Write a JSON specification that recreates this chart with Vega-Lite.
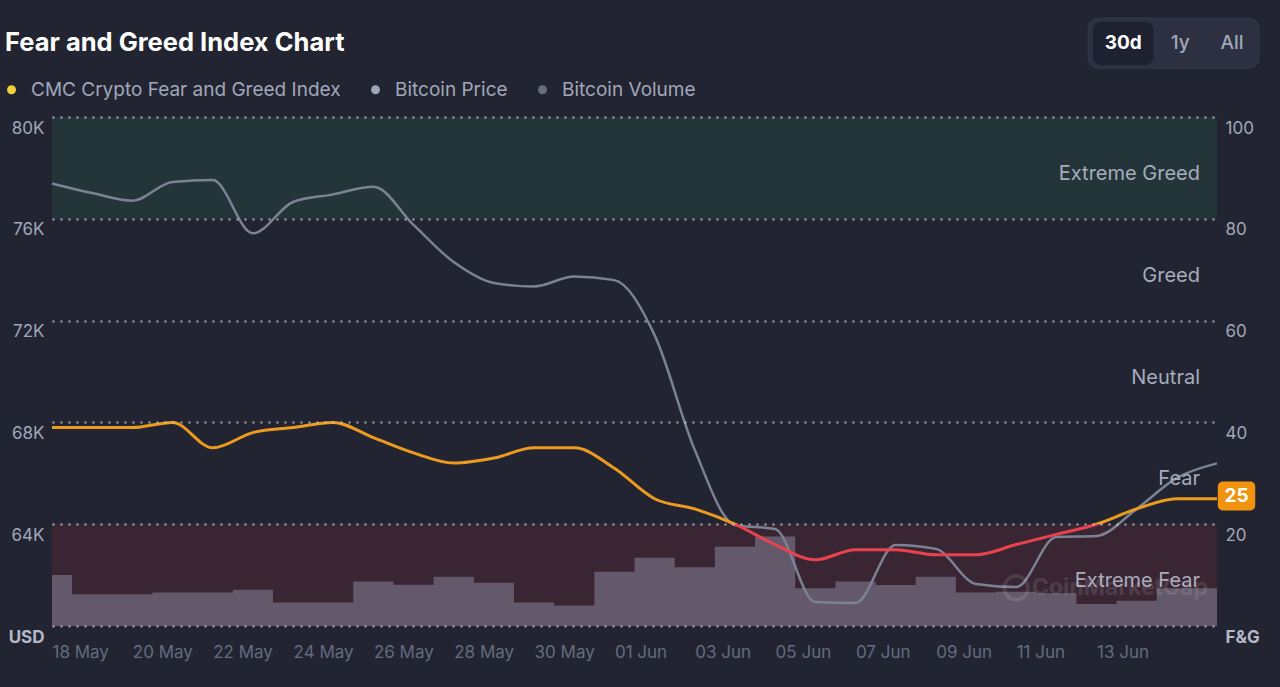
{
  "$schema": "https://vega.github.io/schema/vega-lite/v6.json",
  "width": 1165,
  "height": 509,
  "autosize": {"type": "none"},
  "padding": {"left": 52, "top": 117, "right": 63, "bottom": 61},
  "background": "#222531",
  "config": {"font": "Inter", "view": {"stroke": null}},
  "title": {"text": "Fear and Greed Index Chart", "anchor": "start", "frame": "group", "dx": -47, "dy": 59, "offset": 0, "baseline": "alphabetic", "fontSize": 25.5, "fontWeight": "bold", "color": "#ffffff", "font": "Inter"},
  "data": {"values": [{}]},
  "datasets": {
    "daily": [
      {"date": "2024-05-18T00:00:00", "price": 77390, "fg": 39, "volume": 25.0},
      {"date": "2024-05-19T00:00:00", "price": 77010, "fg": 39, "volume": 15.6},
      {"date": "2024-05-20T00:00:00", "price": 76710, "fg": 39, "volume": 15.6},
      {"date": "2024-05-21T00:00:00", "price": 77450, "fg": 40, "volume": 16.4},
      {"date": "2024-05-22T00:00:00", "price": 77520, "fg": 35, "volume": 16.4},
      {"date": "2024-05-23T00:00:00", "price": 75430, "fg": 38, "volume": 17.8},
      {"date": "2024-05-24T00:00:00", "price": 76660, "fg": 39, "volume": 11.6},
      {"date": "2024-05-25T00:00:00", "price": 76960, "fg": 40, "volume": 11.6},
      {"date": "2024-05-26T00:00:00", "price": 77260, "fg": 37, "volume": 21.8},
      {"date": "2024-05-27T00:00:00", "price": 75760, "fg": 34, "volume": 20.3},
      {"date": "2024-05-28T00:00:00", "price": 74300, "fg": 32, "volume": 24.2},
      {"date": "2024-05-29T00:00:00", "price": 73480, "fg": 33, "volume": 21.3},
      {"date": "2024-05-30T00:00:00", "price": 73340, "fg": 35, "volume": 11.5},
      {"date": "2024-05-31T00:00:00", "price": 73730, "fg": 35, "volume": 10.1},
      {"date": "2024-06-01T00:00:00", "price": 73590, "fg": 31, "volume": 26.6},
      {"date": "2024-06-02T00:00:00", "price": 71430, "fg": 25, "volume": 33.5},
      {"date": "2024-06-03T00:00:00", "price": 66920, "fg": 23, "volume": 28.8},
      {"date": "2024-06-04T00:00:00", "price": 63970, "fg": 20, "volume": 38.9},
      {"date": "2024-06-05T00:00:00", "price": 63810, "fg": 16, "volume": 43.9},
      {"date": "2024-06-06T00:00:00", "price": 60940, "fg": 13, "volume": 18.5},
      {"date": "2024-06-07T00:00:00", "price": 60900, "fg": 15, "volume": 21.8},
      {"date": "2024-06-08T00:00:00", "price": 63180, "fg": 15, "volume": 20.1},
      {"date": "2024-06-09T00:00:00", "price": 63030, "fg": 14, "volume": 24.2},
      {"date": "2024-06-10T00:00:00", "price": 61650, "fg": 14, "volume": 16.4},
      {"date": "2024-06-11T00:00:00", "price": 61530, "fg": 16, "volume": 16.8},
      {"date": "2024-06-12T00:00:00", "price": 63500, "fg": 18, "volume": 16.1},
      {"date": "2024-06-13T00:00:00", "price": 63540, "fg": 20, "volume": 10.8},
      {"date": "2024-06-14T00:00:00", "price": 64600, "fg": 23, "volume": 12.4},
      {"date": "2024-06-15T00:00:00", "price": 65820, "fg": 25, "volume": 18.5},
      {"date": "2024-06-16T00:00:00", "price": 66390, "fg": 25, "volume": 18.5}
    ],
    "zones": [
      {"zone": "Extreme Greed", "lo": 80, "hi": 100, "mid": 90},
      {"zone": "Greed", "lo": 60, "hi": 80, "mid": 70},
      {"zone": "Neutral", "lo": 40, "hi": 60, "mid": 50},
      {"zone": "Fear", "lo": 20, "hi": 40, "mid": 30},
      {"zone": "Extreme Fear", "lo": 0, "hi": 20, "mid": 10}
    ],
    "series": [
      {"series": "CMC Crypto Fear and Greed Index"},
      {"series": "Bitcoin Price"},
      {"series": "Bitcoin Volume"}
    ]
  },
  "resolve": {"scale": {"y": "independent"}},
  "layer": [
    {
      "data": {"name": "zones"},
      "transform": [{"filter": "datum.zone == 'Extreme Greed' || datum.zone == 'Extreme Fear'"}],
      "mark": {"type": "rect"},
      "encoding": {
        "x": {
          "datum": {"year": 2024, "month": 5, "date": 18}, "type": "temporal",
          "scale": {"domain": [{"year": 2024, "month": 5, "date": 18}, {"year": 2024, "month": 6, "date": 16}]},
          "axis": {
            "tickCount": {"interval": "day", "step": 1},
            "labelExpr": "(round((datum.value - datetime(2024, 4, 18)) / 86400000) % 2 == 0 && datum.value < datetime(2024, 5, 14)) ? timeFormat(datum.value, '%d %b') : ''",
            "labelAlign": "left", "labelBaseline": "top", "labelPadding": 18,
            "labelColor": "#646b80", "labelFontSize": 17, "labelFont": "Inter",
            "grid": false, "domain": false, "ticks": false, "title": null,
            "labelFlush": false, "labelOverlap": false, "labelBound": false
          }
        },
        "x2": {"datum": {"year": 2024, "month": 6, "date": 16}},
        "y": {"field": "lo", "type": "quantitative", "scale": {"domain": [0, 100], "nice": false, "zero": false}, "axis": null},
        "y2": {"field": "hi"},
        "fill": {"field": "zone", "type": "nominal", "scale": {"domain": ["Extreme Greed", "Extreme Fear"], "range": ["#243539", "#3a2633"]}, "legend": null}
      }
    },
    {
      "data": {"name": "daily"},
      "mark": {"type": "area", "interpolate": "step", "color": "#63596b", "opacity": 1},
      "encoding": {
        "x": {"field": "date", "type": "temporal", "scale": {"domain": [{"year": 2024, "month": 5, "date": 18}, {"year": 2024, "month": 6, "date": 16}]}},
        "y": {"field": "volume", "type": "quantitative", "scale": {"domain": [0, 250], "nice": false, "zero": true}, "axis": null}
      }
    },
    {
      "data": {"name": "daily"},
      "mark": {"type": "line", "interpolate": "monotone", "color": "#7b8294", "strokeWidth": 2.5},
      "encoding": {
        "x": {"field": "date", "type": "temporal", "scale": {"domain": [{"year": 2024, "month": 5, "date": 18}, {"year": 2024, "month": 6, "date": 16}]}},
        "y": {
          "field": "price", "type": "quantitative",
          "scale": {"domain": [60000, 80000], "nice": false, "zero": false},
          "axis": {
            "orient": "left", "values": [60000, 64000, 68000, 72000, 76000, 80000],
            "labelExpr": "datum.value == 60000 ? 'USD' : format(datum.value / 1000, 'd') + 'K'",
            "labelBaseline": "top", "labelOffset": 3, "labelPadding": 8, "labelFontSize": 17, "labelFont": "Inter",
            "labelColor": {"condition": {"test": "datum.value == 60000", "value": "#b4b8c8"}, "value": "#a1a7bb"},
            "labelFontWeight": {"condition": {"test": "datum.value == 60000", "value": "bold"}, "value": "normal"},
            "grid": true, "gridColor": "#cfd2dc", "gridDash": [2, 6], "gridWidth": 2, "gridOpacity": 0.8,
            "domain": false, "ticks": false, "title": null, "zindex": 1, "labelFlush": false
          }
        }
      }
    },
    {
      "data": {"name": "daily"},
      "mark": {
        "type": "line", "interpolate": "monotone", "strokeWidth": 3,
        "color": {"gradient": "linear", "x1": 0, "y1": 0, "x2": 0, "y2": 1, "stops": [
          {"offset": 0, "color": "#ec9b1f"}, {"offset": 0.7407, "color": "#ec9b1f"},
          {"offset": 0.7407, "color": "#e8424e"}, {"offset": 1, "color": "#e8424e"}
        ]}
      },
      "encoding": {
        "x": {"field": "date", "type": "temporal", "scale": {"domain": [{"year": 2024, "month": 5, "date": 18}, {"year": 2024, "month": 6, "date": 16}]}},
        "y": {
          "field": "fg", "type": "quantitative",
          "scale": {"domain": [0, 100], "nice": false, "zero": false},
          "axis": {
            "orient": "right", "values": [0, 20, 40, 60, 80, 100],
            "labelExpr": "datum.value == 0 ? 'F&G' : datum.label",
            "labelBaseline": "top", "labelOffset": 3, "labelPadding": 8, "labelFontSize": 17, "labelFont": "Inter",
            "labelColor": {"condition": {"test": "datum.value == 0", "value": "#b4b8c8"}, "value": "#a1a7bb"},
            "labelFontWeight": {"condition": {"test": "datum.value == 0", "value": "bold"}, "value": "normal"},
            "grid": false, "domain": false, "ticks": false, "title": null, "labelFlush": false
          }
        }
      }
    },
    {
      "data": {"name": "zones"},
      "mark": {"type": "text", "align": "right", "baseline": "middle", "dx": -17, "dy": 6, "fontSize": 20, "font": "Inter", "color": "#a7abbd"},
      "encoding": {
        "x": {"datum": {"year": 2024, "month": 6, "date": 16}, "type": "temporal", "scale": {"domain": [{"year": 2024, "month": 5, "date": 18}, {"year": 2024, "month": 6, "date": 16}]}},
        "y": {"field": "mid", "type": "quantitative", "scale": {"domain": [0, 100], "nice": false, "zero": false}, "axis": null},
        "text": {"field": "zone", "type": "nominal"}
      }
    },
    {
      "mark": {"type": "text", "text": "CoinMarketCap", "align": "center", "baseline": "middle", "fontSize": 23, "fontWeight": "bold", "font": "Inter", "color": "#ffffff", "opacity": 0.1},
      "encoding": {
        "x": {"datum": {"year": 2024, "month": 6, "date": 13, "hours": 14}, "type": "temporal", "scale": {"domain": [{"year": 2024, "month": 5, "date": 18}, {"year": 2024, "month": 6, "date": 16}]}},
        "y": {"datum": 7.5, "type": "quantitative", "scale": {"domain": [0, 100], "nice": false, "zero": false}, "axis": null}
      }
    },
    {
      "mark": {"type": "point", "shape": "circle", "filled": false, "size": 560, "strokeWidth": 3.5, "color": "#ffffff", "opacity": 0.1},
      "encoding": {
        "x": {"datum": {"year": 2024, "month": 6, "date": 11}, "type": "temporal", "scale": {"domain": [{"year": 2024, "month": 5, "date": 18}, {"year": 2024, "month": 6, "date": 16}]}},
        "y": {"datum": 7.5, "type": "quantitative", "scale": {"domain": [0, 100], "nice": false, "zero": false}, "axis": null}
      }
    },
    {
      "mark": {"type": "rect", "color": "#f0930f", "cornerRadius": 5},
      "encoding": {
        "x": {"datum": {"year": 2024, "month": 6, "date": 16, "hours": 0, "minutes": 30}, "type": "temporal", "scale": {"domain": [{"year": 2024, "month": 5, "date": 18}, {"year": 2024, "month": 6, "date": 16}]}},
        "x2": {"datum": {"year": 2024, "month": 6, "date": 16, "hours": 22, "minutes": 50}},
        "y": {"datum": 22.7, "type": "quantitative", "scale": {"domain": [0, 100], "nice": false, "zero": false}, "axis": null},
        "y2": {"datum": 28.4}
      }
    },
    {
      "data": {"name": "daily"},
      "transform": [{"filter": {"field": "date", "equal": {"year": 2024, "month": 6, "date": 16}}}],
      "mark": {"type": "text", "align": "center", "baseline": "middle", "dx": 19.5, "dy": -3, "fontSize": 19, "fontWeight": "bold", "font": "Inter", "color": "#ffffff"},
      "encoding": {
        "x": {"field": "date", "type": "temporal", "scale": {"domain": [{"year": 2024, "month": 5, "date": 18}, {"year": 2024, "month": 6, "date": 16}]}},
        "y": {"field": "fg", "type": "quantitative", "scale": {"domain": [0, 100], "nice": false, "zero": false}, "axis": null},
        "text": {"field": "fg", "type": "quantitative"}
      }
    },
    {
      "mark": {"type": "rect", "color": "#2d3040", "stroke": "#363a4a", "strokeWidth": 1, "cornerRadius": 10},
      "encoding": {
        "x": {"datum": {"year": 2024, "month": 6, "date": 12, "hours": 19}, "type": "temporal", "scale": {"domain": [{"year": 2024, "month": 5, "date": 18}, {"year": 2024, "month": 6, "date": 16}]}},
        "x2": {"datum": {"year": 2024, "month": 6, "date": 17, "hours": 1}},
        "y": {"datum": 109.6, "type": "quantitative", "scale": {"domain": [0, 100], "nice": false, "zero": false}, "axis": null},
        "y2": {"datum": 119.4}
      }
    },
    {
      "mark": {"type": "rect", "color": "#1e2130", "cornerRadius": 8},
      "encoding": {
        "x": {"datum": {"year": 2024, "month": 6, "date": 12, "hours": 22}, "type": "temporal", "scale": {"domain": [{"year": 2024, "month": 5, "date": 18}, {"year": 2024, "month": 6, "date": 16}]}},
        "x2": {"datum": {"year": 2024, "month": 6, "date": 14, "hours": 10}},
        "y": {"datum": 110.2, "type": "quantitative", "scale": {"domain": [0, 100], "nice": false, "zero": false}, "axis": null},
        "y2": {"datum": 118.7}
      }
    },
    {
      "mark": {"type": "text", "text": "30d", "align": "center", "baseline": "middle", "fontSize": 19, "fontWeight": "bold", "font": "Inter", "color": "#ffffff"},
      "encoding": {
        "x": {"datum": {"year": 2024, "month": 6, "date": 13, "hours": 16}, "type": "temporal", "scale": {"domain": [{"year": 2024, "month": 5, "date": 18}, {"year": 2024, "month": 6, "date": 16}]}},
        "y": {"datum": 114.5, "type": "quantitative", "scale": {"domain": [0, 100], "nice": false, "zero": false}, "axis": null}
      }
    },
    {
      "mark": {"type": "text", "text": "1y", "align": "center", "baseline": "middle", "fontSize": 19, "fontWeight": 500, "font": "Inter", "color": "#a1a7bb"},
      "encoding": {
        "x": {"datum": {"year": 2024, "month": 6, "date": 15, "hours": 2}, "type": "temporal", "scale": {"domain": [{"year": 2024, "month": 5, "date": 18}, {"year": 2024, "month": 6, "date": 16}]}},
        "y": {"datum": 114.5, "type": "quantitative", "scale": {"domain": [0, 100], "nice": false, "zero": false}, "axis": null}
      }
    },
    {
      "mark": {"type": "text", "text": "All", "align": "center", "baseline": "middle", "fontSize": 19, "fontWeight": 500, "font": "Inter", "color": "#a1a7bb"},
      "encoding": {
        "x": {"datum": {"year": 2024, "month": 6, "date": 16, "hours": 9}, "type": "temporal", "scale": {"domain": [{"year": 2024, "month": 5, "date": 18}, {"year": 2024, "month": 6, "date": 16}]}},
        "y": {"datum": 114.5, "type": "quantitative", "scale": {"domain": [0, 100], "nice": false, "zero": false}, "axis": null}
      }
    },
    {
      "data": {"name": "series"},
      "mark": {"type": "point", "filled": true, "opacity": 0},
      "encoding": {
        "color": {
          "field": "series", "type": "nominal",
          "scale": {"domain": ["CMC Crypto Fear and Greed Index", "Bitcoin Price", "Bitcoin Volume"], "range": ["#f3d03a", "#a0a4b8", "#686c80"]},
          "legend": {
            "orient": "none", "legendX": -50, "legendY": -37, "direction": "horizontal", "title": null,
            "symbolType": "circle", "symbolSize": 80, "symbolOpacity": 1, "symbolStrokeWidth": 0,
            "labelFont": "Inter", "labelFontSize": 19, "labelColor": "#a1a7bb", "labelOffset": 10,
            "columnPadding": 25, "padding": 0, "labelLimit": 400
          }
        }
      }
    }
  ]
}
